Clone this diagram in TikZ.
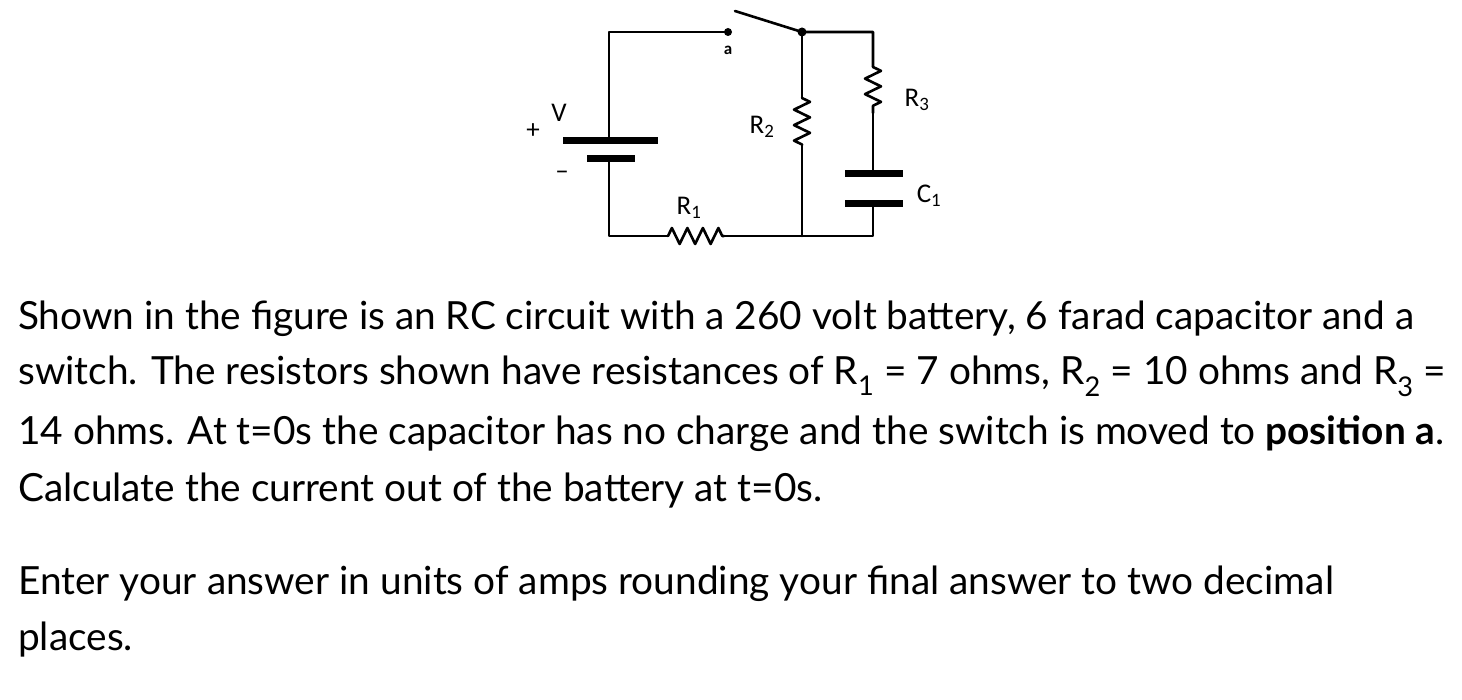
\documentclass[tikz,border=0pt]{standalone}
\usepackage{fontspec}
\setmainfont{Lato}
\newfontfamily\lblfont{Carlito}
\usetikzlibrary{decorations.pathmorphing}

\begin{document}
\begin{tikzpicture}[x=1pt,y=-1pt,
	wire/.style={line width=2.6pt,line cap=round,line join=round},
	res/.style={wire,decorate,decoration={zigzag,segment length=15.5pt,amplitude=8pt}},
	plate/.style={line width=7pt},
	lbl/.style={font=\lblfont\fontsize{27}{27}\selectfont,inner sep=0pt},
	txt/.style={anchor=base west,inner sep=0pt,font=\fontsize{38.8}{44}\selectfont}]
	\useasboundingbox (0,0) rectangle (1462,700);
	% corners and junctions
	\coordinate (tl) at (609,32);
	\coordinate (bl) at (609,236);
	\coordinate (a) at (728,32);
	\coordinate (sw) at (802,32);
	\coordinate (swend) at (735,11);
	\coordinate (tr) at (873,32);
	\coordinate (br) at (873,236);
	\coordinate (bm) at (802,236);
	\coordinate (bat1) at (609,141);
	\coordinate (bat2) at (609,159);
	\coordinate (r1a) at (668,236);
	\coordinate (r1b) at (724,236);
	\coordinate (r2a) at (802,98);
	\coordinate (r2b) at (802,145);
	\coordinate (r3a) at (873,67);
	\coordinate (r3b) at (873,113);
	\coordinate (c1a) at (873,174);
	\coordinate (c1b) at (873,204);

	% wires
	\draw[wire] (bat1) -- (tl) -- (a);
	\draw[wire] (bat2) -- (bl) -- (r1a);
	\draw[res] (r1a) -- (r1b);
	\draw[wire] (r1b) -- (br) -- (c1b);
	\draw[wire] (swend) -- (sw) -- (tr) -- (r3a);
	\draw[res] (r3a) -- (r3b);
	\draw[wire] (r3b) -- (c1a);
	\draw[wire] (sw) -- (r2a);
	\draw[res] (r2a) -- (r2b);
	\draw[wire] (r2b) -- (bm);
	\fill (a) circle (4pt);
	\fill (sw) circle (4.5pt);

	% battery and capacitor plates
	\draw[plate] (563,141) -- (658,141);
	\draw[plate] (587,159) -- (635,159);
	\draw[plate] (845,174) -- (903,174);
	\draw[plate] (845,204) -- (903,204);

	% labels
	\node[lbl] (vlbl) at (559,113) {V};
	\node[lbl] (plus) at (533,131) {+};
	\node[lbl] (minus) at (562,175) {\textendash};
	\node[lbl,font=\lblfont\bfseries\fontsize{17}{17}\selectfont] (albl) at (728,50) {a};
	\node[lbl] (r1lbl) at (689,208) {R\textsubscript{1}};
	\node[lbl] (r2lbl) at (762,127) {R\textsubscript{2}};
	\node[lbl] (r3lbl) at (917,100) {R\textsubscript{3}};
	\node[lbl] (c1lbl) at (929,196) {C\textsubscript{1}};

	% question text
	\node[txt] (l1) at (18,330) {Shown in the figure is an RC circuit with a 260 volt battery, 6 farad capacitor and a};
	\node[txt] (l2) at (18,385) {switch. The resistors shown have resistances of R\textsubscript{1} = 7 ohms, R\textsubscript{2} = 10 ohms and R\textsubscript{3} =};
	\node[txt] (l3) at (18,445) {14 ohms. At t=0s the capacitor has no charge and the switch is moved to \textbf{position a}.};
	\node[txt] (l4) at (18,501) {Calculate the current out of the battery at t=0s.};
	\node[txt] (l5) at (18,594) {Enter your answer in units of amps rounding your final answer to two decimal};
	\node[txt] (l6) at (18,650) {places.};
\end{tikzpicture}
\end{document}
